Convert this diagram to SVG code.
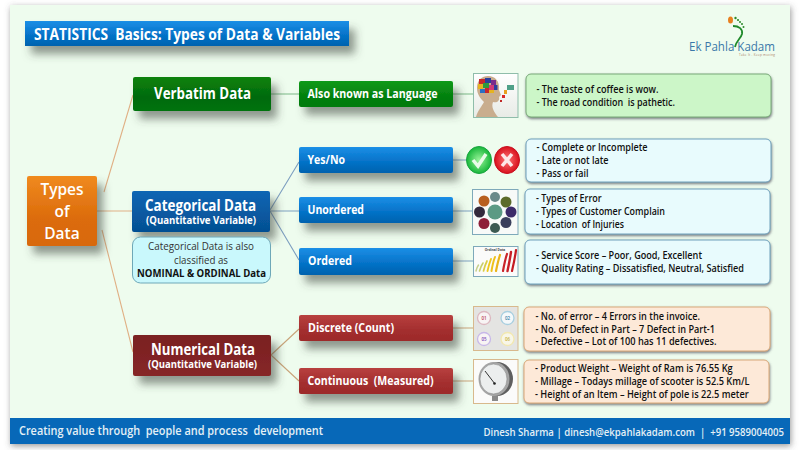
<svg xmlns="http://www.w3.org/2000/svg" width="800" height="450" viewBox="0 0 800 450">
<style>
text{font-family:"Open Sans","Noto Sans","Liberation Sans",sans-serif;font-weight:600;white-space:pre}
.w{fill:#fff}.c{text-anchor:middle}
.d{fill:#111;font-size:10px}
.sub{fill:#fff;font-size:12.300px;font-weight:700;text-anchor:start}
.big{fill:#fff;font-size:15.500px;font-weight:700;text-anchor:middle}
.cap{font-size:11.800px;font-weight:600}
.con{fill:none;stroke-width:1.100}
.ns{filter:url(#sh)}
.bs{filter:url(#sm)}
.blue{fill:url(#gb)}.green{fill:url(#gg)}.red{fill:url(#gr)}
.ic{stroke-width:1}
</style>
<defs>
<filter id="sh" x="-20%" y="-30%" width="150%" height="210%"><feDropShadow dx="6" dy="8" stdDeviation="4.500" flood-color="#3c4a3c" flood-opacity=".55"/></filter>
<filter id="sm" x="-5%" y="-10%" width="110%" height="125%"><feDropShadow dx="0.500" dy="1.500" stdDeviation="0.800" flood-color="#445" flood-opacity=".7"/></filter>
<filter id="pn" x="-3%" y="-3%" width="106%" height="106%"><feDropShadow dx="1" dy="2" stdDeviation="3" flood-color="#555" flood-opacity=".6"/></filter>
<linearGradient id="gb" x1="0" y1="0" x2="0" y2="1"><stop offset="0" stop-color="#1b8fe6"/><stop offset=".55" stop-color="#0673c9"/><stop offset="1" stop-color="#0562ae"/></linearGradient>
<linearGradient id="gd" x1="0" y1="0" x2="0" y2="1"><stop offset="0" stop-color="#0b66b4"/><stop offset="1" stop-color="#054f92"/></linearGradient>
<linearGradient id="gg" x1="0" y1="0" x2="0" y2="1"><stop offset="0" stop-color="#0c9a1a"/><stop offset=".6" stop-color="#05800f"/><stop offset="1" stop-color="#067a10"/></linearGradient>
<linearGradient id="gv" x1="0" y1="0" x2="0" y2="1"><stop offset="0" stop-color="#0a820f"/><stop offset=".6" stop-color="#046a09"/><stop offset="1" stop-color="#05730a"/></linearGradient>
<linearGradient id="gr" x1="0" y1="0" x2="0" y2="1"><stop offset="0" stop-color="#b8403f"/><stop offset=".6" stop-color="#a32e2e"/><stop offset="1" stop-color="#9c2a2a"/></linearGradient>
<linearGradient id="gn" x1="0" y1="0" x2="0" y2="1"><stop offset="0" stop-color="#7a2021"/><stop offset="1" stop-color="#862728"/></linearGradient>
<linearGradient id="go" x1="0" y1="0" x2="0" y2="1"><stop offset="0" stop-color="#f08a1f"/><stop offset=".6" stop-color="#dc6c0c"/><stop offset="1" stop-color="#d8690b"/></linearGradient>
<radialGradient id="chk"><stop offset="0" stop-color="#9af59a"/><stop offset="1" stop-color="#17b63a"/></radialGradient>
<radialGradient id="xx"><stop offset="0" stop-color="#f77"/><stop offset="1" stop-color="#d8101c"/></radialGradient>
<linearGradient id="ph" x1="0" y1="0" x2="0" y2="1"><stop offset="0" stop-color="#fff"/><stop offset="1" stop-color="#e8ebe6"/></linearGradient>
</defs>

<rect width="800" height="450" fill="#fff"/>
<rect x="10" y="5" width="780" height="439" fill="#eefcee" filter="url(#pn)"/>

<g id="connectors" class="con">
<path d="M104 192 133 95M97 211H132M102 230 133 352" stroke="#e0b085"/>
<path d="M271 94H299M453 94H473" stroke="#7ab885"/>
<path d="M270 210 299 162M270 211H299M270 211 299 260M453 160H468M453 211H473M453 261H473" stroke="#7d9fc0"/>
<path d="M271 355 299 329M271 355 299 381M453 328H473M453 381H473" stroke="#c9a47a"/>
</g>

<g id="title"><rect class="ns" x="25" y="21" width="324" height="25" fill="url(#gb)"/><text x="34" y="40" class="w" font-size="15.500" style="font-weight:700" textLength="306" lengthAdjust="spacingAndGlyphs">STATISTICS  Basics: Types of Data &amp; Variables</text></g>

<g id="logo">
<path d="M733 26C739 26 743 29 742 34 741 38 736 41 735 47" fill="none" stroke="#1f8a2a" stroke-width="1.800"/>
<ellipse cx="730.500" cy="20" rx="2.500" ry="3.500" fill="#e8801f"/>
<g fill="#2c8a2a"><circle cx="735.500" cy="18" r="1.200"/><circle cx="738" cy="20" r="1.100"/><circle cx="740" cy="22" r="1"/><circle cx="742" cy="24" r="1"/><circle cx="743.500" cy="27" r="1"/></g>
<text x="689" y="50.500" font-size="11.800" fill="#3a78a8" style="font-weight:400" textLength="86" lengthAdjust="spacingAndGlyphs">Ek Pahla Kadam</text>
<text x="739" y="55.500" font-size="3" fill="#a77b5a" style="font-weight:400" textLength="36">Take It . Keep moving</text>
</g>

<g id="types"><rect class="ns" x="27" y="176" width="70" height="70" rx="2" fill="url(#go)"/><g class="big" style="font-size:15.500px"><text x="62" y="195">Types</text><text x="62" y="217">of</text><text x="62" y="239">Data</text></g></g>

<g id="verbatim"><rect class="ns" x="133" y="77" width="138" height="34" rx="2" fill="url(#gv)"/><text class="big" x="202.500" y="99" textLength="97" lengthAdjust="spacingAndGlyphs">Verbatim Data</text></g>
<g id="language"><rect class="ns green" x="299" y="81" width="154" height="26" rx="2"/><text class="sub" x="307.500" y="98" textLength="130" lengthAdjust="spacingAndGlyphs">Also known as Language</text></g>
<g id="img-language"><rect class="ic" x="473.500" y="73.500" width="44.500" height="44" fill="url(#ph)" stroke="#8fbdaa"/>
<path d="M476 117C478 110 482 106 484 102 480 98 477 94 477 88 477 80 482 76 488 76 495 76 500 81 499 90L501 95 499 97C500 101 497 103 493 102 491 107 494 112 498 117Z" fill="#c9ad8e"/>
<g><rect x="479" y="79" width="6" height="5" fill="#c8282c"/><rect x="485" y="78" width="6" height="5" fill="#2b3f9c"/><rect x="491" y="80" width="5" height="5" fill="#7a2c8c"/><rect x="478" y="84" width="5" height="5" fill="#e6b320"/><rect x="483" y="83" width="6" height="5" fill="#2c9a3c"/><rect x="489" y="85" width="5" height="5" fill="#d13a78"/><rect x="494" y="85" width="3.500" height="5" fill="#2b3f9c"/><rect x="480" y="89" width="5" height="4" fill="#2b6fc4"/><rect x="485" y="88" width="4" height="5" fill="#c8282c"/><rect x="489" y="90" width="5" height="3" fill="#e6b320"/></g>
<rect x="507" y="85" width="7" height="5" fill="#4fa088"/><rect x="504" y="90" width="3" height="4" fill="#e8a020"/><rect x="502" y="95" width="3" height="3" fill="#d82828"/><rect x="500" y="100" width="2" height="2" fill="#c02828"/></g>
<g id="box-language"><rect class="bs" x="526" y="74" width="245" height="43" rx="5" fill="#ccf6c8" stroke="#78a878"/><text class="d" x="536.500" y="92.500" textLength="122" lengthAdjust="spacingAndGlyphs">- The taste of coffee is wow.</text><text class="d" x="536.500" y="105.500" textLength="138.500" lengthAdjust="spacingAndGlyphs">- The road condition  is pathetic.</text></g>

<g id="yesno"><rect class="ns blue" x="299" y="147" width="154" height="26" rx="2"/><text class="sub" x="307.500" y="164" textLength="37.500" lengthAdjust="spacingAndGlyphs">Yes/No</text></g>
<g id="img-yesno"><ellipse cx="479" cy="160" rx="12.500" ry="13.500" fill="url(#chk)" stroke="#1aa540"/><path d="M473 160 478 166 486 154" fill="none" stroke="#e8fbe8" stroke-width="3.500"/>
<ellipse cx="507" cy="160" rx="12.500" ry="13.500" fill="url(#xx)" stroke="#c81020"/><path d="M502 154 512 166M512 154 502 166" stroke="#fde8e8" stroke-width="3.500"/></g>
<g id="box-yesno"><rect class="bs" x="526" y="139" width="245" height="43" rx="5" fill="#e8fbfd" stroke="#6fa0bb"/><text class="d" x="536.500" y="151" textLength="111" lengthAdjust="spacingAndGlyphs">- Complete or Incomplete</text><text class="d" x="536.500" y="163.500" textLength="72" lengthAdjust="spacingAndGlyphs">- Late or not late</text><text class="d" x="536.500" y="176.500" textLength="52" lengthAdjust="spacingAndGlyphs">- Pass or fail</text></g>

<g id="categorical"><rect class="ns" x="132" y="191" width="138" height="41" rx="2" fill="url(#gd)"/><text class="big" x="200.500" y="210.500" textLength="111" lengthAdjust="spacingAndGlyphs">Categorical Data</text><text x="201" y="224" class="w c" font-size="9.800" style="font-weight:700" textLength="110" lengthAdjust="spacingAndGlyphs">(Quantitative Variable)</text></g>
<g id="note"><rect x="132.500" y="237" width="138" height="46" rx="8" fill="#c9f8fc" stroke="#6ea8b8"/><text class="c" x="201" y="250" font-size="10" fill="#333" style="font-weight:400" textLength="106" lengthAdjust="spacingAndGlyphs">Categorical Data is also</text><text class="c" x="201" y="264" font-size="10" fill="#333" style="font-weight:400" textLength="54" lengthAdjust="spacingAndGlyphs">classified as</text><text class="c" x="201.500" y="277" font-size="9.800" fill="#111" style="font-weight:700" textLength="129" lengthAdjust="spacingAndGlyphs">NOMINAL &amp; ORDINAL Data</text></g>

<g id="unordered"><rect class="ns blue" x="299" y="197" width="154" height="26" rx="2"/><text class="sub" x="307.500" y="214" textLength="56.500" lengthAdjust="spacingAndGlyphs">Unordered</text></g>
<g id="img-unordered"><rect class="ic" x="472.500" y="189.500" width="45.500" height="45" fill="#f8faf8" stroke="#7ea9ba"/>
<circle cx="495" cy="212" r="7.500" fill="#5b9a84"/><circle cx="495" cy="197" r="5" fill="#6a8a8a"/><circle cx="506" cy="202" r="5.500" fill="#5c6b2a"/><circle cx="511" cy="212" r="5.500" fill="#3c2a68"/><circle cx="506" cy="222.500" r="5.500" fill="#3a3f5c"/><circle cx="495" cy="228" r="5" fill="#3c5a52"/><circle cx="484" cy="223.500" r="5.500" fill="#8e1f38"/><circle cx="479.500" cy="212" r="5.500" fill="#332a3c"/><circle cx="484" cy="201" r="5.500" fill="#b85f20"/></g>
<g id="box-unordered"><rect class="bs" x="525" y="189" width="245" height="45" rx="5" fill="#e8fbfd" stroke="#6fa0bb"/><text class="d" x="536" y="202" textLength="65.700" lengthAdjust="spacingAndGlyphs">- Types of Error</text><text class="d" x="536" y="214.500" textLength="129" lengthAdjust="spacingAndGlyphs">- Types of Customer Complain</text><text class="d" x="536" y="227.500" textLength="88" lengthAdjust="spacingAndGlyphs">- Location  of Injuries</text></g>

<g id="ordered"><rect class="ns blue" x="299" y="248" width="154" height="27" rx="2"/><text class="sub" x="308" y="265" textLength="44" lengthAdjust="spacingAndGlyphs">Ordered</text></g>
<g id="img-ordered"><rect class="ic" x="473.500" y="246.500" width="44.500" height="30" fill="#fbfbfa" stroke="#7ea9ba"/>
<text x="495" y="250.500" class="c" font-size="3.200" fill="#444" style="font-weight:700">Ordinal Data</text>
<g fill="none" stroke-linecap="round"><path d="M476 271Q477 267 478.500 265" stroke="#c5cf8a" stroke-width="1.500"/><path d="M479.500 271Q481 266 483 263" stroke="#c9cf6a" stroke-width="1.600"/><path d="M483.500 271Q485 265 487 261" stroke="#d9cd44" stroke-width="1.700"/><path d="M487.500 271Q489 264 491 259" stroke="#eec81e" stroke-width="1.900"/><path d="M491.500 271Q493 262 495 257" stroke="#eec01a" stroke-width="2"/><path d="M496 271Q498 261 500 255" stroke="#e9b41a" stroke-width="2.200"/><path d="M503 271Q505 260 507 254" stroke="#c9242a" stroke-width="2.200"/><path d="M507.500 271Q510 259 511 252" stroke="#c81f28" stroke-width="2.400"/><path d="M512 271Q515 258 516 250" stroke="#c41a22" stroke-width="2.200"/></g></g>
<g id="box-ordered"><rect class="bs" x="525" y="240" width="245" height="44" rx="5" fill="#e8fbfd" stroke="#6fa0bb"/><text class="d" x="536" y="259" textLength="166" lengthAdjust="spacingAndGlyphs">- Service Score – Poor, Good, Excellent</text><text class="d" x="536" y="272" textLength="208" lengthAdjust="spacingAndGlyphs">- Quality Rating – Dissatisfied, Neutral, Satisfied</text></g>

<g id="numerical"><rect class="ns" x="133" y="335" width="138" height="41" rx="2" fill="url(#gn)"/><text class="big" x="203" y="354.500" textLength="104" lengthAdjust="spacingAndGlyphs">Numerical Data</text><text x="202.500" y="368" class="w c" font-size="9.800" style="font-weight:700" textLength="109" lengthAdjust="spacingAndGlyphs">(Quantitative Variable)</text></g>

<g id="discrete"><rect class="ns red" x="299" y="315" width="154" height="26" rx="2"/><text class="sub" x="308" y="332" textLength="86" lengthAdjust="spacingAndGlyphs">Discrete (Count)</text></g>
<g id="img-discrete"><rect class="ic" x="473.500" y="306.500" width="44.500" height="44" fill="#e4e4e2" stroke="#d8b98c"/>
<g stroke-width="1.300" fill="#f8f4f4"><circle cx="484" cy="318" r="6.500" stroke="#dcb8c0"/><circle cx="507.500" cy="318" r="6.500" stroke="#a8cfe0" fill="#f4f8fa"/><circle cx="484" cy="339" r="6.500" stroke="#c8b8e8"/><circle cx="507.500" cy="339" r="6.500" stroke="#f2e8b0" fill="#f8f6e8"/></g>
<g class="c" font-size="4.500" style="font-weight:700"><text x="484" y="320" fill="#b84050">01</text><text x="507.500" y="320" fill="#3a80a8">02</text><text x="484" y="341" fill="#7a48b8">05</text><text x="507.500" y="341" fill="#c8b040">06</text></g></g>
<g id="box-discrete"><rect class="bs" x="524" y="307" width="246" height="44" rx="5" fill="#fde9d8" stroke="#d8a878"/><text class="d" x="535.500" y="319.500" textLength="164.500" lengthAdjust="spacingAndGlyphs">- No. of error – 4 Errors in the invoice.</text><text class="d" x="535.500" y="332.500" textLength="179.500" lengthAdjust="spacingAndGlyphs">- No. of Defect in Part – 7 Defect in Part-1</text><text class="d" x="535.500" y="345" textLength="181" lengthAdjust="spacingAndGlyphs">- Defective – Lot of 100 has 11 defectives.</text></g>

<g id="continuous"><rect class="ns red" x="299" y="368" width="154" height="26" rx="2"/><text class="sub" x="307.500" y="385" textLength="126" lengthAdjust="spacingAndGlyphs">Continuous  (Measured)</text></g>
<g id="img-continuous"><rect class="ic" x="473.500" y="359.500" width="44.500" height="44" fill="#fbfbfa" stroke="#d8b98c"/>
<rect x="492" y="396" width="6" height="5" fill="#8a8a8a"/><ellipse cx="497" cy="379" rx="16" ry="17" fill="#5f5f5f"/><ellipse cx="494" cy="379" rx="15.500" ry="17" fill="#a5a5a5"/><ellipse cx="493.500" cy="379" rx="13.500" ry="15" fill="#eceeee" stroke="#888" stroke-width=".6"/><path d="M485 371 495 384" stroke="#333" stroke-width="1"/><circle cx="494.500" cy="383.500" r="1.300" fill="#222"/></g>
<g id="box-continuous"><rect class="bs" x="524" y="360" width="245" height="43" rx="5" fill="#fde9d8" stroke="#d8a878"/><text class="d" x="535" y="372" textLength="197.700" lengthAdjust="spacingAndGlyphs">- Product Weight – Weight of Ram is 76.55 Kg</text><text class="d" x="535" y="385" textLength="214.500" lengthAdjust="spacingAndGlyphs">- Millage – Todays millage of scooter is 52.5 Km/L</text><text class="d" x="535" y="397.500" textLength="213.700" lengthAdjust="spacingAndGlyphs">- Height of an Item – Height of pole is 22.5 meter</text></g>

<g id="footer"><rect x="10" y="418" width="780" height="26" fill="#0768b8"/><text x="19" y="435" class="cap" fill="#e4f0f6" textLength="304" lengthAdjust="spacingAndGlyphs">Creating value through  people and process  development</text><text x="483.500" y="436" fill="#e4f0f6" font-size="9.800" textLength="300.500" lengthAdjust="spacingAndGlyphs">Dinesh Sharma | dinesh@ekpahlakadam.com  |  +91 9589004005</text></g>
</svg>
